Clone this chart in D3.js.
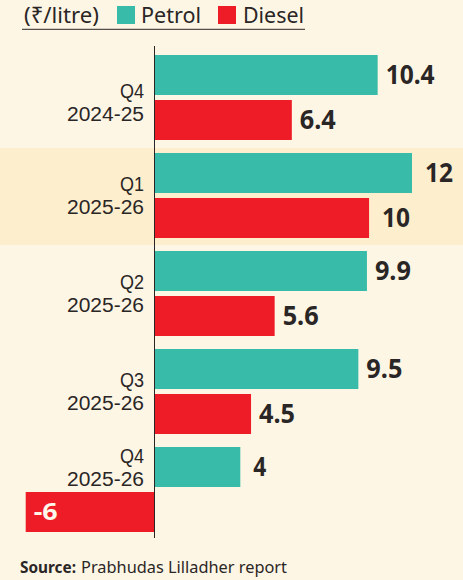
<!DOCTYPE html>
<html><head><meta charset="utf-8">
<script src="https://cdnjs.cloudflare.com/ajax/libs/d3/7.8.5/d3.min.js"></script>
<style>html,body{margin:0;padding:0;background:#fef6e5}svg{display:block}text{font-family:"Noto Sans",sans-serif;fill:#2a2626}</style>
</head><body><svg id="c" width="463" height="580"></svg>
<script>
const quarters=["Q4","Q1","Q2","Q3","Q4"];
const years=["2024-25","2025-26","2025-26","2025-26","2025-26"];
const seriesNames=["Petrol","Diesel"];
const petrol=[10.4,12,9.9,9.5,4];
const diesel=[6.4,10,5.6,4.5,-6];
const labelsPetrol=["10.4","12","9.9","9.5","4"];
const labelsDiesel=["6.4","10","5.6","4.5","-6"];
const colors=["#38bba8","#ee1c27"];
const highlightIndex=1;

const svg=d3.select("#c");
const idx=d3.range(quarters.length);
const x=d3.scaleLinear().domain([-6,12]).range([25.7,412]);
const y=d3.scaleBand().domain(idx).range([51,541]);
const inner=d3.scaleBand().domain(seriesNames).range([4,89]).paddingInner(0.111);
const labelShift=[47,42,42,42,20];

function fitted(sel,len){return sel.attr("textLength",len).attr("lengthAdjust","spacingAndGlyphs");}

svg.append("rect").attr("x",0).attr("y",y(highlightIndex)-1).attr("width",463).attr("height",97).attr("fill","#fdeecd");

// legend
svg.append("text").attr("x",24).attr("y",23).attr("font-size",21.5).call(fitted,75).text("(₹/litre)");
const legend=[{n:"Petrol",rx:117,tx:141,w:60},{n:"Diesel",rx:218,tx:243,w:61}];
legend.forEach((d,i)=>{
  svg.append("rect").attr("x",d.rx).attr("y",6).attr("width",18).attr("height",18).attr("fill",colors[i]);
  svg.append("text").attr("x",d.tx).attr("y",23).attr("font-size",21.5).call(fitted,d.w).text(d.n);
});
svg.append("line").attr("x1",22).attr("x2",305).attr("y1",29.3).attr("y2",29.3).attr("stroke","#2a2626").attr("stroke-width",1);

// bars
const rows=svg.selectAll("g.row").data(idx).join("g").attr("class","row").attr("transform",i=>`translate(0,${y(i)})`);
const labelWidth=t=>t.length===4?49:t.length===3?36:t==="-6"?24:t.length===2?28:13;
[petrol,diesel].forEach((vals,s)=>{
  const name=seriesNames[s];
  const labs=s===0?labelsPetrol:labelsDiesel;
  rows.append("rect")
    .attr("x",i=>x(Math.min(0,vals[i])))
    .attr("y",inner(name))
    .attr("width",i=>Math.abs(x(vals[i])-x(0)))
    .attr("height",inner.bandwidth())
    .attr("fill",colors[s]);
  rows.append("text")
    .attr("x",i=>vals[i]<0?x(vals[i])+8:x(vals[i])+(labs[i].length===2||labs[i].length===1?13:8))
    .attr("y",i=>inner(name)+inner.bandwidth()/2+(vals[i]<0?8:9))
    .attr("font-size",i=>vals[i]<0?24:26).attr("font-weight",700)
    .style("fill",i=>vals[i]<0?"#fff8ea":"#2a2626")
    .each(function(i){fitted(d3.select(this),labelWidth(labs[i]));})
    .text(i=>labs[i]);
});

// category labels: Liberation Sans has a tighter line box, so the stacked lines stay clear
rows.append("text").attr("x",144).attr("y",i=>labelShift[i]).attr("text-anchor","end").attr("font-size",20).style("font-family","'Liberation Sans'").call(fitted,24).text(i=>quarters[i]);
rows.append("text").attr("x",144).attr("y",i=>labelShift[i]+23).attr("text-anchor","end").attr("font-size",20).style("font-family","'Liberation Sans'").call(fitted,77).text(i=>years[i]);

// axis
svg.append("line").attr("x1",154.5).attr("x2",154.5).attr("y1",46).attr("y2",538).attr("stroke","#2a2626").attr("stroke-width",1);

// source
svg.append("text").attr("x",20).attr("y",573).attr("font-size",16.5).attr("font-weight",700).call(fitted,56).text("Source:");
svg.append("text").attr("x",81).attr("y",573).attr("font-size",16.5).call(fitted,206).text("Prabhudas Lilladher report");
</script></body></html>
